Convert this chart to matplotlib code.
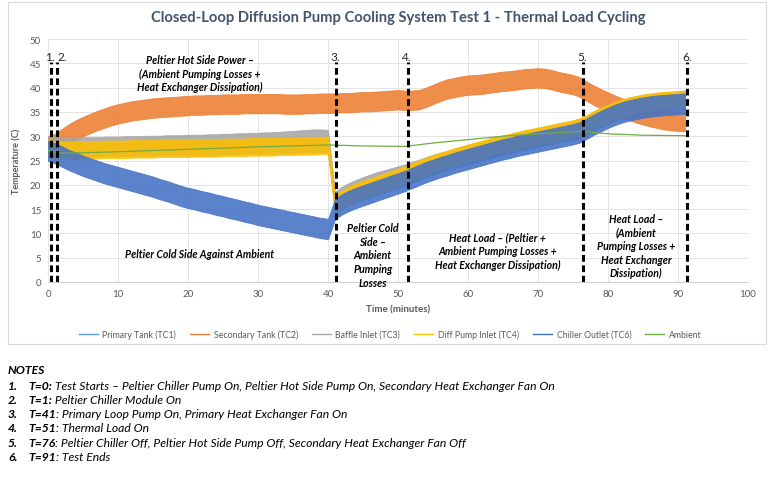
import matplotlib
matplotlib.use("Agg")
import matplotlib.pyplot as plt
from matplotlib.lines import Line2D
from matplotlib.patches import Rectangle
import numpy as np

plt.rcParams['font.family'] = ['Lato', 'DejaVu Sans']

# minutes 0..91
time_min = list(range(0, 92))

secondary_tc2 = [28, 28.5, 29.5, 30.5, 31.3, 32, 32.6, 33.2, 33.7, 34.2,
                 34.6, 34.9, 35.2, 35.4, 35.6, 35.8, 35.9, 36, 36.1, 36.2,
                 36.3, 36.4, 36.4, 36.5, 36.5, 36.6, 36.6, 36.6, 36.7, 36.7,
                 36.7, 36.7, 36.7, 36.7, 36.6, 36.6, 36.6, 36.7, 36.7, 36.8,
                 36.8, 36.8, 36.9, 36.9, 37, 37.1, 37.1, 37.2, 37.3, 37.4,
                 37.5, 37.4, 37.4, 37.5, 38.0, 38.6, 39.2, 39.7, 40.0, 40.3,
                 40.5, 40.6, 40.7, 40.9, 41.1, 41.3, 41.4, 41.6, 41.8, 41.9,
                 42, 41.9, 41.6, 41.2, 40.9, 40.6, 40.1, 39.2, 38.4, 37.7,
                 37.0, 36.4, 35.8, 35.3, 34.8, 34.4, 34, 33.7, 33.4, 33.2,
                 33.1, 33]

chiller_tc6 = [27, 26.5, 25.8, 25.1, 24.5, 23.9, 23.4, 22.9, 22.4, 22,
               21.6, 21.2, 20.8, 20.4, 20, 19.6, 19.1, 18.7, 18.2, 17.7,
               17.3, 17, 16.6, 16.3, 15.9, 15.6, 15.2, 14.9, 14.5, 14.2,
               13.8, 13.5, 13.2, 12.9, 12.6, 12.3, 12, 11.7, 11.4, 11.1,
               10.9, 15, 16, 16.7, 17.3, 17.8, 18.3, 18.8, 19.3, 19.8,
               20.3, 20.8, 21.4, 22, 22.6, 23.1, 23.6, 24, 24.5, 24.9,
               25.3, 25.7, 26.1, 26.5, 26.9, 27.3, 27.6, 28, 28.3, 28.6,
               28.9, 29.2, 29.5, 29.8, 30.1, 30.4, 30.8, 31.6, 32.4, 33.1,
               33.8, 34.4, 34.9, 35.3, 35.6, 35.9, 36.1, 36.3, 36.4, 36.5,
               36.6, 36.7]

diffpump_tc4 = [27.5, 27.2, 27.1, 27.1, 27.1, 27.2, 27.2, 27.2, 27.3, 27.3,
                27.3, 27.3, 27.4, 27.4, 27.4, 27.4, 27.5, 27.5, 27.5, 27.5,
                27.5, 27.6, 27.6, 27.6, 27.6, 27.7, 27.7, 27.7, 27.7, 27.8,
                27.8, 27.8, 27.8, 27.9, 27.9, 27.9, 28, 28, 28, 28.1,
                28.1, 16, 17, 17.8, 18.5, 19, 19.5, 20, 20.5, 21,
                21.5, 22, 22.6, 23.2, 23.8, 24.3, 24.8, 25.2, 25.7, 26.1,
                26.5, 26.9, 27.3, 27.7, 28.1, 28.4, 28.7, 29.1, 29.4, 29.7,
                30, 30.3, 30.6, 30.9, 31.2, 31.5, 31.9, 32.6, 33.4, 34.1,
                34.7, 35.3, 35.8, 36.2, 36.5, 36.8, 37, 37.2, 37.3, 37.4,
                37.5, 37.6]

baffle_tc3 = [28, 27.8, 27.8, 27.9, 27.9, 28, 28, 28, 28.1, 28.1,
              28.1, 28.2, 28.2, 28.2, 28.3, 28.3, 28.3, 28.4, 28.4, 28.4,
              28.5, 28.5, 28.5, 28.6, 28.6, 28.7, 28.7, 28.8, 28.8, 28.9,
              28.9, 29, 29, 29.1, 29.2, 29.3, 29.4, 29.5, 29.6, 29.6,
              29.5, 16.8, 17.8, 18.6, 19.2, 19.8, 20.3, 20.8, 21.2, 21.6,
              22, 22.4, 22.9, 23.4, 23.9, 24.4, 24.8, 25.2, 25.6, 26,
              26.4, 26.8, 27.2, 27.6, 28, 28.3, 28.6, 29, 29.3, 29.6,
              29.9, 30.2, 30.5, 30.8, 31.1, 31.4, 31.8, 32.5, 33.3, 34,
              34.6, 35.2, 35.7, 36.1, 36.4, 36.7, 36.9, 37.1, 37.2, 37.3,
              37.4, 37.6]

primary_tc1 = [27.3, 27.2, 27.1, 27.1, 27.1, 27.2, 27.2, 27.2, 27.3, 27.3,
               27.3, 27.3, 27.4, 27.4, 27.4, 27.4, 27.5, 27.5, 27.5, 27.5,
               27.5, 27.6, 27.6, 27.6, 27.6, 27.7, 27.7, 27.7, 27.7, 27.8,
               27.8, 27.8, 27.8, 27.9, 27.9, 27.9, 28, 28, 28, 28.1,
               28.1, 15.5, 16.5, 17.2, 17.8, 18.3, 18.8, 19.3, 19.8, 20.3,
               20.8, 21.3, 21.8, 22.4, 23, 23.5, 24, 24.4, 24.8, 25.2,
               25.6, 26, 26.4, 26.8, 27.2, 27.6, 27.9, 28.3, 28.6, 28.9,
               29.2, 29.5, 29.8, 30.1, 30.4, 30.7, 31, 31.8, 32.6, 33.3,
               34, 34.6, 35.1, 35.5, 35.8, 36.1, 36.3, 36.5, 36.6, 36.7,
               36.8, 36.9]

ambient_time = [0, 2, 5, 10, 20, 30, 40, 45, 51, 55, 60, 65, 70, 76, 80, 85, 91]
ambient = [27, 26.5, 26.6, 26.8, 27.3, 27.8, 28.2, 28.0, 27.9, 28.6, 29.3,
           30.0, 30.5, 31.0, 30.5, 30.2, 30.1]

# approximate half-width of the noise band of each sensor
band_tc1 = 1.4
band_tc2 = 2.0
band_tc3 = 1.8
band_tc4 = 1.8
band_tc6 = 2.1

event_times = [0.43, 1.33, 41.2, 51.4, 76.4, 91.3]
event_labels = ["1.", "2.", "3.", "4.", "5.", "6."]
event_label_x = [0.2, 2.1, 41.1, 51.3, 76.3, 91.3]

legend_names = ["Primary Tank (TC1)", "Secondary Tank (TC2)", "Baffle Inlet (TC3)",
                "Diff Pump Inlet (TC4)", "Chiller Outlet (TC6)", "Ambient"]

notes_num = ["1.", "2.", "3.", "4.", "5.", "6."]
notes_t = ["T=0:", "T=1:", "T=41", "T=51", "T=76", "T=91"]
notes_txt = [" Test Starts \u2013 Peltier Chiller Pump On, Peltier Hot Side Pump On, Secondary Heat Exchanger Fan On",
             " Peltier Chiller Module On",
             ": Primary Loop Pump On, Primary Heat Exchanger Fan On",
             ": Thermal Load On",
             ": Peltier Chiller Off, Peltier Hot Side Pump Off, Secondary Heat Exchanger Fan Off",
             ": Test Ends"]

c_tc1 = "#5B9BD5"
c_tc2 = "#ED7D31"
c_tc3 = "#A5A5A5"
c_tc4 = "#FFC000"
c_tc6 = "#4472C4"
c_amb = "#70AD47"
grey_txt = "#595959"

fig = plt.figure(figsize=(7.68, 4.81), dpi=100)
fig.patch.set_facecolor("white")
fig.patches.append(Rectangle((8 / 768, 1 - 345 / 481), 758 / 768, 342 / 481,
                             transform=fig.transFigure, fill=False,
                             edgecolor="#D9D9D9", lw=0.8))

ax = fig.add_axes([48 / 768, 1 - 283 / 481, 700 / 768, 243 / 481])

series = [(primary_tc1, band_tc1, c_tc1), (secondary_tc2, band_tc2, c_tc2),
          (baffle_tc3, band_tc3, c_tc3), (diffpump_tc4, band_tc4, c_tc4),
          (chiller_tc6, band_tc6, c_tc6)]
for vals, band, col in series:
    v = np.array(vals)
    ax.fill_between(time_min, v - band, v + band, color=col, alpha=0.88, lw=0.6,
                    edgecolor=col)
ax.plot(ambient_time, ambient, color=c_amb, lw=0.9)

ax.vlines(event_times, 0, 45.3, colors="black", lw=2.2, linestyles=(0, (2.2, 1.2)))
for lx, lab in zip(event_label_x, event_labels):
    ax.text(lx, 46.5, lab, ha="center", va="center", fontsize=8.5, color="#262626")

ital = dict(fontsize=7.6, fontweight="bold", fontstyle="italic", color="black",
            ha="center", va="center", linespacing=1.3)
ax.text(21.7, 43.0, "Peltier Hot Side Power \u2013\n(Ambient Pumping Losses +\nHeat Exchanger Dissipation)", **ital)
ax.text(21.7, 5.8, "Peltier Cold Side Against Ambient", **ital)
ax.text(46.4, 5.6, "Peltier Cold\nSide \u2013\nAmbient\nPumping\nLosses", **ital)
ax.text(64.2, 6.5, "Heat Load \u2013 (Peltier +\nAmbient Pumping Losses +\nHeat Exchanger Dissipation)", **ital)
ax.text(84.0, 7.5, "Heat Load \u2013\n(Ambient\nPumping Losses +\nHeat Exchanger\nDissipation)", **ital)

ax.set_xlim(0, 100)
ax.set_ylim(0, 50)
ax.set_xticks(range(0, 101, 10))
ax.set_yticks(range(0, 51, 5))
ax.grid(color="#E4E4E4", lw=0.7)
ax.set_axisbelow(True)
for s in ["top", "right", "left"]:
    ax.spines[s].set_visible(False)
ax.spines["bottom"].set_color("#D0D0D0")
ax.tick_params(length=0, labelsize=7, colors=grey_txt, pad=5)
ax.set_xlabel("Time (minutes)", fontsize=7, fontweight="bold", color=grey_txt, labelpad=5)
ax.set_ylabel("Temperature (C)", fontsize=6.5, fontweight="bold", color=grey_txt, labelpad=6)

fig.text(398 / 768, 1 - 18 / 481, "Closed-Loop Diffusion Pump Cooling System Test 1 - Thermal Load Cycling",
         ha="center", va="center", fontsize=10.6, fontweight="bold", color="#44546A")

handles = [Line2D([], [], color=c, lw=1) for c in [c_tc1, c_tc2, c_tc3, c_tc4, c_tc6, c_amb]]
fig.legend(handles, legend_names, loc="center", bbox_to_anchor=(390 / 768, 1 - 335 / 481),
           ncol=6, frameon=False, fontsize=6.3, labelcolor=grey_txt,
           handlelength=2.2, columnspacing=1.6, handletextpad=0.5)

# notes block
fig.text(8 / 768, 1 - 371 / 481, "NOTES", fontsize=8.7, fontweight="bold", fontstyle="italic",
         va="center", ha="left")
fig.canvas.draw()
rend = fig.canvas.get_renderer()
inv = fig.transFigure.inverted()
for i in range(len(notes_num)):
    y = 1 - (386 + i * 14.3) / 481
    fig.text(8 / 768, y, notes_num[i], fontsize=8.7, fontweight="bold", fontstyle="italic",
             va="center", ha="left")
    t = fig.text(28 / 768, y, notes_t[i], fontsize=8.7, fontweight="bold", fontstyle="italic",
                 va="center", ha="left")
    bb = t.get_window_extent(rend)
    x1 = inv.transform((bb.x1, bb.y0))[0]
    fig.text(x1, y, notes_txt[i], fontsize=8.7, fontstyle="italic", va="center", ha="left")

fig.savefig("out.png", dpi=100, facecolor="white")
